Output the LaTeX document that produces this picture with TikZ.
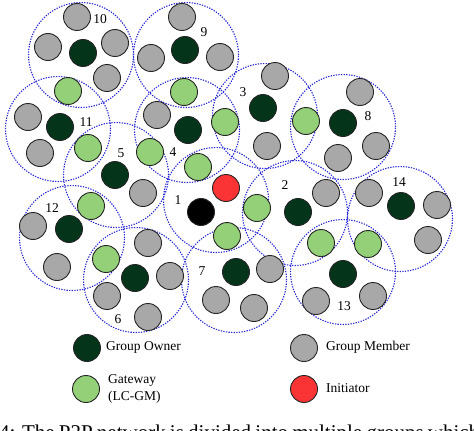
\documentclass[tikz,border=0pt]{standalone}
\usepackage{fontspec}
\setmainfont{Liberation Serif}
\definecolor{owner}{RGB}{4,52,26}
\definecolor{member}{RGB}{168,168,168}
\definecolor{gateway}{RGB}{148,208,120}
\definecolor{initcol}{RGB}{250,52,52}
\definecolor{ring}{RGB}{40,40,215}
\tikzset{%
    vtx/.style={circle,draw=black!85,line width=0.9pt,minimum size=27pt,inner sep=0pt}
}

\begin{document}
\begin{tikzpicture}[
        x=1pt,y=-1pt,
        go/.style={vtx,fill=owner},
        gm/.style={vtx,fill=member},
        gw/.style={vtx,fill=gateway},
        ini/.style={vtx,fill=initcol},
        blk/.style={vtx,fill=black},
        grp/.style={circle,draw=ring,line width=1.1pt,dash pattern=on 1.3pt off 1.3pt,minimum size=105pt,inner sep=0pt},
        lbl/.style={font=\fontsize{13.5}{17}\selectfont,inner sep=0pt}
        ]
        \useasboundingbox (0,0) rectangle (474,431);

        \node[grp] (c10) at (81,55){};
        \node[grp] (c9) at (186,55){};
        \node[grp] (c11) at (58,129){};
        \node[grp] (c4) at (187,130){};
        \node[grp] (c3) at (265,116){};
        \node[grp] (c8) at (343,127){};
        \node[grp] (c5) at (116,175){};
        \node[grp] (c1) at (216,200){};
        \node[grp] (c2) at (295,213){};
        \node[grp] (c14) at (400,219){};
        \node[grp] (c12) at (72,238){};
        \node[grp] (c6) at (136,280){};
        \node[grp] (c7) at (234,280){};
        \node[grp] (c13) at (343,272){};

        \node[gm] (m10a) at (77,17){};
        \node[gm] (m10b) at (48,47){};
        \node[go] (o10) at (83,53){};
        \node[gm] (m10c) at (115,43){};
        \node[gm] (m10d) at (107,78){};
        \node[gw] (g1011) at (68,91){};

        \node[gm] (m9a) at (182,17){};
        \node[go] (o9) at (185,50){};
        \node[gm] (m9b) at (151,58){};
        \node[gm] (m9c) at (220,57){};
        \node[gw] (g94) at (184,92){};

        \node[gm] (m11a) at (28,117){};
        \node[go] (o11) at (60,127){};
        \node[gm] (m11b) at (40,153){};
        \node[gw] (g115) at (88,148){};

        \node[gm] (m4a) at (157,115){};
        \node[go] (o4) at (188,130){};
        \node[gw] (g45) at (150,152){};
        \node[gw] (g43) at (225,122){};
        \node[gw] (g41) at (198,167){};

        \node[gm] (m3a) at (275,76){};
        \node[go] (o3) at (263,108){};
        \node[gm] (m3b) at (267,146){};
        \node[gw] (g38) at (306,121){};

        \node[go] (o8) at (343,123){};
        \node[gm] (m8a) at (360,92){};
        \node[gm] (m8b) at (376,146){};
        \node[gm] (m8c) at (338,158){};

        \node[go] (o5) at (115,175){};
        \node[gm] (m5a) at (143,193){};
        \node[gw] (g512) at (91,206){};

        \node[ini] (init) at (226,188){};
        \node[blk] (b1) at (201,212){};
        \node[gw] (g12) at (257,208){};
        \node[gw] (g17) at (227,236){};

        \node[go] (o2) at (298,212){};
        \node[gm] (m2a) at (326,193){};
        \node[gw] (g213) at (321,243){};

        \node[go] (o14) at (401,206){};
        \node[gm] (m14a) at (369,193){};
        \node[gm] (m14b) at (437,205){};
        \node[gm] (m14c) at (428,240){};
        \node[gw] (g1413) at (368,244){};

        \node[gm] (m12a) at (33,226){};
        \node[go] (o12) at (69,229){};
        \node[gm] (m12b) at (57,267){};

        \node[gw] (g126) at (106,259){};
        \node[go] (o6) at (135,278){};
        \node[gm] (m6a) at (148,243){};
        \node[gm] (m6b) at (170,276){};
        \node[gm] (m6c) at (107,296){};
        \node[gm] (m6d) at (148,317){};

        \node[go] (o7) at (236,272){};
        \node[gm] (m7a) at (270,269){};
        \node[gm] (m7b) at (216,300){};
        \node[gm] (m7c) at (254,308){};

        \node[go] (o13) at (343,274){};
        \node[gm] (m13a) at (316,301){};
        \node[gm] (m13b) at (373,296){};

        \node[lbl] (n10) at (100,19.5){10};
        \node[lbl] (n9) at (204,32){9};
        \node[lbl] (n11) at (86,122){11};
        \node[lbl] (n4) at (173,152){4};
        \node[lbl] (n3) at (243,92){3};
        \node[lbl] (n8) at (368,116){8};
        \node[lbl] (n5) at (121,153){5};
        \node[lbl] (n1) at (178,200){1};
        \node[lbl] (n2) at (285,185){2};
        \node[lbl] (n14) at (399,182){14};
        \node[lbl] (n12) at (52,208){12};
        \node[lbl] (n6) at (118,319){6};
        \node[lbl] (n7) at (202,271){7};
        \node[lbl] (n13) at (344,306){13};

        \node[go] (kgo) at (87,348){};
        \node[lbl,anchor=west] (tgo) at (106,347){Group Owner};
        \node[gm] (kgm) at (304,348){};
        \node[lbl,anchor=west] (tgm) at (326,347){Group Member};
        \node[gw] (kgw) at (86,389){};
        \node[lbl,anchor=west,align=left] (tgw) at (108,388.5){Gateway\\(LC-GM)};
        \node[ini] (kini) at (304,389){};
        \node[lbl,anchor=west] (tini) at (326,388){Initiator};

        \node[lbl,anchor=base west,font=\fontsize{21}{25}\selectfont] (cap) at (-1,439.5)
            {\makebox[480pt][s]{4: The P2P network is divided into multiple groups which}};
    \end{tikzpicture}
\end{document}
